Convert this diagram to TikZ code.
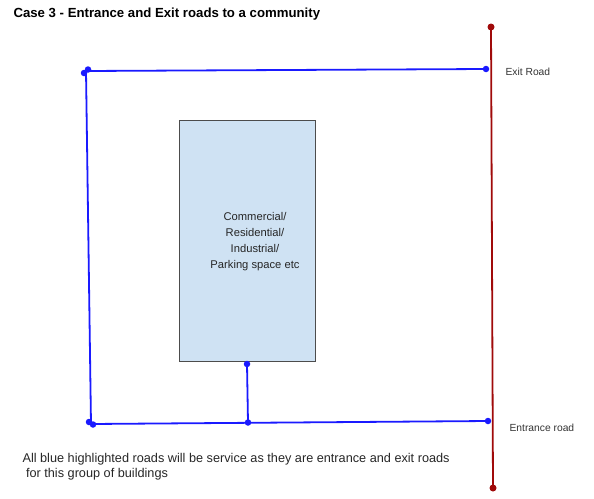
\documentclass[tikz,border=0pt]{standalone}
\usepackage{fontspec}
\setmainfont{Liberation Sans}
\usepackage{xcolor}
\usepackage{tikz}
\usetikzlibrary{positioning, calc}

\definecolor{roadblue}{HTML}{1A1AFF}
\definecolor{roadred}{HTML}{A00A0A}
\definecolor{zonefill}{HTML}{CFE2F3}

\begin{document}
\begin{tikzpicture}[x=1pt, y=-1pt,
    blueroad/.style={draw=roadblue, line width=1.8pt},
    redroad/.style={draw=roadred, line width=1.8pt},
    bdot/.style={circle, fill=roadblue, inner sep=0pt, minimum size=6.5pt},
    rdot/.style={circle, fill=roadred, inner sep=0pt, minimum size=7pt},
    lbl/.style={font=\fontsize{10.3}{12}\selectfont, text=black!80, anchor=west}]
  \useasboundingbox (0,0) rectangle (594,498);

  % title
  \node[anchor=west, font=\fontsize{13.2}{15}\selectfont\bfseries] (title) at (10,14) {Case 3 - Entrance and Exit roads to a community};

  % block in the middle
  \node[draw=black!70, fill=zonefill, minimum width=136pt, minimum height=241pt, inner sep=0pt] (zone) at (247,240.5) {};
  \node[align=center, font=\fontsize{11.2}{16}\selectfont, text=black!85] (zonetext) at (255,242) {Commercial/\\Residential/\\Industrial/\\Parking space etc};

  % corners of the service loop
  \coordinate (tl) at (86,71);
  \coordinate (tr) at (486,69);
  \coordinate (bl) at (91,424);
  \coordinate (br) at (488,421);
  \coordinate (zt) at (247,364);
  \coordinate (zb) at (248,422.5);

  % main road
  \coordinate (rt) at (491,27);
  \coordinate (rb) at (493,488);
  \draw[redroad] (rt) -- (rb);
  \node[rdot] (rtop) at (rt) {};
  \node[rdot] (rbot) at (rb) {};

  \draw[blueroad] (tl) -- (tr);
  \draw[blueroad] (tl) -- (bl);
  \draw[blueroad] (bl) -- (br);
  \draw[blueroad] (zt) -- (zb);

  \node[bdot] (d1) at (84,73) {};
  \node[bdot] (d2) at (88,69.5) {};
  \node[bdot] (d3) at (89,422) {};
  \node[bdot] (d4) at (93,424.5) {};
  \node[bdot] (d5) at (tr) {};
  \node[bdot] (d6) at (br) {};
  \node[bdot] (d7) at (zt) {};
  \node[bdot] (d8) at (zb) {};

  \node[lbl] (exit) at (502,72) {Exit Road};
  \node[lbl] (entry) at (506,428) {Entrance road};

  \node[anchor=north west, align=left, font=\fontsize{12.7}{15}\selectfont, text=black!85] (note) at (19,450) {All blue highlighted roads will be service as they are entrance and exit roads\\ \ for this group of buildings};
\end{tikzpicture}
\end{document}
